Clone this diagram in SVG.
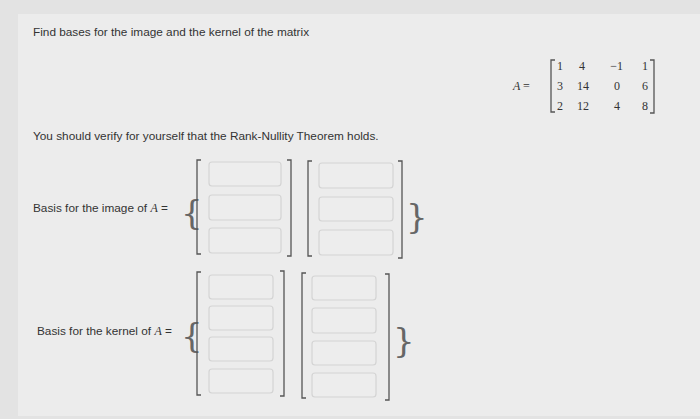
<svg xmlns="http://www.w3.org/2000/svg" width="700" height="419" viewBox="0 0 700 419">
<style>
.t{font-family:"Liberation Sans",Arial,sans-serif;font-size:11.8px;fill:#333}
.m{font-family:"Liberation Serif","Times New Roman",serif;font-size:12px;fill:#333}
.b{fill:#ededed;stroke:#d4d4d4;stroke-width:1.2}
.k{fill:none;stroke:#555;stroke-width:1.3}
.br{font-family:"DejaVu Serif",serif;fill:#666;font-weight:200}
</style>
<rect width="700" height="419" fill="#e3e3e3"/>
<rect x="18" y="14" width="690" height="402" fill="#ececec"/>
<g id="text">
<text class="t" x="33" y="36">Find bases for the image and the kernel of the matrix</text>
<text class="t" x="33" y="140">You should verify for yourself that the Rank-Nullity Theorem holds.</text>
<text class="t" x="33" y="212">Basis for the image of <tspan class="m" font-style="italic">A</tspan> =</text>
<text class="t" x="37" y="335">Basis for the kernel of <tspan class="m" font-style="italic">A</tspan> =</text>
</g>
<g id="matrix">
<text class="m" x="513" y="90" font-style="italic">A</text><text class="m" x="523" y="90">=</text>
<path class="k" d="M555 60H551V112H555M650 60H654V113H650"/>
<g class="m" text-anchor="end">
<text x="563" y="70">1</text><text x="585" y="70">4</text><text x="623" y="70">−1</text><text x="648" y="70">1</text>
<text x="563" y="90">3</text><text x="589" y="90">14</text><text x="620" y="90">0</text><text x="648" y="90">6</text>
<text x="563" y="110">2</text><text x="589" y="110">12</text><text x="620" y="110">4</text><text x="648" y="110">8</text>
</g>
</g>
<g id="image-basis">
<text class="br" x="181" y="224" font-size="34">{</text>
<path class="k" d="M201 160H197V254H201M287 160H291V256H287M312 161H308V256H312M398 161H402V258H398"/>
<rect class="b" x="209" y="162" width="72" height="24" rx="3"/>
<rect class="b" x="209" y="195" width="72" height="25" rx="3"/>
<rect class="b" x="209" y="228" width="72" height="25" rx="3"/>
<rect class="b" x="319" y="163" width="74" height="25" rx="3"/>
<rect class="b" x="319" y="197" width="74" height="24" rx="3"/>
<rect class="b" x="319" y="230" width="74" height="25" rx="3"/>
<text class="br" x="406" y="228" font-size="34">}</text>
</g>
<g id="kernel-basis">
<text class="br" x="181" y="347" font-size="34">{</text>
<path class="k" d="M201 272H197V395H201M280 271H284V396H280M306 273H302V398H306M385 274H389V400H385"/>
<rect class="b" x="209" y="275" width="64" height="24" rx="3"/>
<rect class="b" x="209" y="306" width="64" height="24" rx="3"/>
<rect class="b" x="209" y="337" width="64" height="24" rx="3"/>
<rect class="b" x="209" y="369" width="64" height="24" rx="3"/>
<rect class="b" x="312" y="276" width="64" height="24" rx="3"/>
<rect class="b" x="312" y="308" width="64" height="25" rx="3"/>
<rect class="b" x="312" y="341" width="64" height="24" rx="3"/>
<rect class="b" x="312" y="373" width="64" height="24" rx="3"/>
<text class="br" x="393" y="352" font-size="34">}</text>
</g>
</svg>
